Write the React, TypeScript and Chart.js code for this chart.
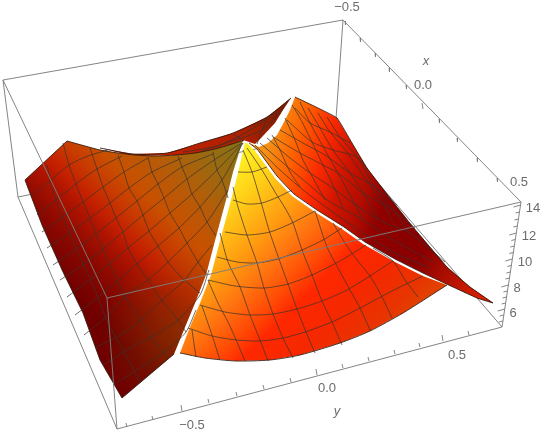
import React, { useEffect, useRef } from "react";
import { Chart, registerables } from "chart.js";

Chart.register(...registerables);

type P = [number, number];

// Box frame (plane coordinates of the projected cube)
const backEdges: P[][] = [
  [[343, 20], [335, 133]],
  [[18, 197], [335, 133]],
  [[502, 327], [335, 133]],
];
const frontEdges: P[][] = [
  [[3, 80], [343, 20]],
  [[343, 20], [521, 202]],
  [[3, 80], [18, 197]],
  [[18, 197], [117, 429]],
  [[117, 429], [502, 327]],
  [[521, 202], [502, 327]],
  [[3, 80], [107, 298]],
  [[107, 298], [521, 202]],
  [[107, 298], [117, 429]],
];

// Axis tick positions
const xMinorTicks: P[] = [[345, 21], [360, 38], [375, 53], [389, 68], [406, 85], [439, 119], [457, 138], [477, 158], [497, 178]];
const xMajorTicks: P[] = [[422, 103]];
const yMinorTicks: P[] = [[127, 427], [153, 420], [209, 403], [237, 396], [264, 389], [291, 382], [343, 368], [369, 361], [395, 354], [420, 347], [469, 335]];
const yMajorTicks: P[] = [[182, 411], [317, 375], [443, 341]];
const zMinorTicks: P[] = [[519.5, 212], [518.4, 219], [517.4, 226], [515.3, 239.5], [514.3, 246], [513.3, 252.5], [511.3, 265.5], [510.4, 272], [509.4, 278], [507.4, 291], [506.5, 297], [505.6, 303], [503.8, 315], [502.9, 321]];
const zMajorTicks: P[] = [[520.5, 205], [516.3, 233], [512.3, 259], [508.4, 285], [504.7, 309]];

// Tick and axis labels
const axisLabels: { text: string; at: P; italic?: boolean }[] = [
  { text: "\u22120.5", at: [347, 7] },
  { text: "0.0", at: [423, 85] },
  { text: "0.5", at: [519, 182] },
  { text: "x", at: [426, 61], italic: true },
  { text: "\u22120.5", at: [192, 425] },
  { text: "0.0", at: [327, 388] },
  { text: "0.5", at: [457, 355] },
  { text: "y", at: [337, 411], italic: true },
  { text: "14", at: [533, 208] },
  { text: "12", at: [529, 236] },
  { text: "10", at: [525, 262] },
  { text: "8", at: [517, 288] },
  { text: "6", at: [513, 313] },
];

// Surface sheets: outlines
const backSheet: P[] = [[100, 148], [133, 154], [167, 153], [200, 143], [233, 133], [267, 117], [291, 98], [283, 110], [275, 123], [262, 137], [255, 144], [243, 140], [217, 152], [183, 155], [133, 156]];
const rightSheet: P[] = [[295, 97], [316, 107], [337, 118], [352, 143], [367, 168], [390, 198], [413, 227], [447, 267], [470, 287], [493, 303], [477, 298], [425, 274], [395, 259], [365, 242], [344, 227], [317, 210], [294, 194], [277, 176], [257, 149], [249, 143], [259, 147], [268, 143], [277, 135], [284, 122], [290, 110]];
const leftSheet: P[] = [[67, 141], [85, 146], [100, 150], [118, 153], [135, 155], [155, 156], [175, 155], [195, 153], [215, 149], [232, 144], [244, 140], [242, 143], [233, 172], [226, 200], [216, 237], [206, 275], [195, 303], [185, 327], [174, 354], [122, 398], [100, 360], [83, 313], [63, 272], [42, 225], [25, 180]];
const frontSheet: P[] = [[245, 143], [238, 173], [231, 200], [221, 237], [211, 275], [200, 303], [190, 327], [180, 353], [205, 358], [236, 361], [270, 360], [300, 355], [340, 343], [370, 331], [403, 313], [447, 285], [423, 276], [393, 261], [363, 244], [342, 229], [315, 212], [292, 196], [275, 178], [255, 151], [247, 143]];

// Thin dark rims
const leftRimTop: P[] = [[67, 141], [85, 146], [100, 150], [118, 153], [135, 155], [155, 156], [175, 155], [195, 153], [215, 149], [232, 144], [244, 140]];
const leftRimOuter: P[] = [[67, 141], [25, 180], [42, 225], [63, 272], [83, 313], [100, 360], [122, 398], [174, 354]];
const frontRimBottom: P[] = [[180, 353], [205, 358], [236, 361], [270, 360], [300, 355], [340, 343], [370, 331], [403, 313], [447, 285]];
const rightRimOuter: P[] = [[295, 97], [316, 107], [337, 118], [352, 143], [367, 168], [390, 198], [413, 227], [447, 267], [470, 287], [493, 303]];
const rightRimInner: P[] = [[249, 143], [257, 149], [277, 176], [294, 194], [317, 210], [344, 227], [365, 242], [395, 259], [425, 274], [477, 298], [493, 303]];
const backRimTop: P[] = [[100, 148], [133, 154], [167, 153], [200, 143], [233, 133], [267, 117], [291, 98]];

// Mesh lines, front sheet
const frontArcs: P[][] = [
  [[238, 172], [252, 172], [267, 167]],
  [[233, 200], [247, 204], [262, 203], [278, 197], [292, 190]],
  [[225, 232], [247, 235], [270, 232], [292, 223], [315, 211]],
  [[217, 257], [237, 262], [257, 263], [278, 259], [302, 250], [323, 240], [342, 228]],
  [[208, 280], [235, 286], [264, 288], [288, 284], [312, 275], [340, 261], [366, 245]],
  [[200, 305], [225, 312], [250, 315], [273, 314], [297, 309], [322, 301], [345, 291], [370, 276], [393, 261]],
  [[188, 328], [212, 336], [237, 340], [260, 341], [283, 338], [305, 332], [332, 322], [360, 308], [392, 291], [423, 276]],
];
const frontRays: P[][] = [
  [[192, 330], [196, 357]],
  [[202, 306], [212, 335], [220, 360]],
  [[208, 280], [218, 303], [228, 322], [237, 342], [245, 361]],
  [[220, 233], [228, 262], [240, 287], [250, 315], [260, 340], [268, 361]],
  [[233, 187], [238, 207], [247, 235], [257, 263], [264, 288], [273, 314], [283, 338], [293, 358]],
  [[243, 150], [252, 172], [261, 202], [269, 230], [279, 259], [288, 284], [297, 309], [306, 332], [315, 353]],
  [[247, 148], [262, 170], [275, 192], [285, 208], [293, 223], [302, 250], [312, 275], [322, 301], [332, 322], [342, 345]],
  [[315, 211], [327, 247], [338, 268], [350, 290], [360, 308], [370, 330]],
  [[333, 223], [345, 243], [357, 260], [370, 276], [382, 297], [392, 318]],
  [[373, 248], [393, 261], [405, 280], [418, 297]],
];

// Mesh lines, left sheet
const leftRuns: P[][] = [
  [[31, 197], [50, 181], [69, 165], [88, 156], [108, 150]],
  [[37, 215], [56, 200], [76, 184], [97, 169], [122, 156]],
  [[42, 232], [63, 217], [83, 202], [103, 187], [124, 172], [148, 158]],
  [[47, 248], [68, 234], [90, 218], [110, 203], [129, 188], [152, 172], [182, 158]],
  [[53, 265], [75, 250], [96, 234], [116, 218], [137, 201], [158, 184], [182, 167], [213, 154]],
  [[60, 280], [81, 266], [103, 249], [123, 232], [143, 215], [164, 198], [187, 179], [214, 160], [242, 143]],
  [[67, 297], [87, 282], [108, 265], [128, 248], [149, 231], [170, 213], [192, 194], [217, 170], [243, 143]],
  [[75, 315], [96, 299], [117, 281], [137, 264], [158, 246], [179, 228], [200, 207], [222, 180], [243, 143]],
  [[84, 335], [105, 318], [125, 297], [148, 280], [168, 262], [187, 243], [207, 222], [228, 190]],
  [[95, 348], [125, 332], [148, 313], [170, 293], [183, 282], [198, 262], [212, 245]],
  [[103, 365], [132, 347], [155, 335], [178, 320], [200, 295], [209, 270]],
  [[113, 385], [140, 368], [167, 350], [186, 332], [196, 310]],
];
const leftFalls: P[][] = [
  [[47, 165], [55, 198], [67, 227], [78, 253], [92, 283], [108, 323], [123, 350], [140, 382]],
  [[63, 143], [69, 165], [76, 184], [83, 202], [90, 218], [96, 234], [103, 249], [110, 265], [117, 280], [125, 297], [140, 320], [155, 342], [167, 357]],
  [[90, 148], [97, 169], [103, 187], [110, 203], [116, 218], [123, 232], [128, 248], [137, 264], [148, 280], [160, 298], [178, 320], [186, 332]],
  [[118, 155], [124, 172], [129, 188], [137, 201], [143, 215], [149, 231], [158, 246], [168, 262], [181, 277], [200, 293]],
  [[148, 157], [152, 172], [158, 184], [164, 198], [170, 213], [179, 228], [187, 243], [198, 262], [207, 275]],
  [[178, 156], [182, 167], [187, 179], [192, 194], [200, 207], [207, 222], [216, 236]],
  [[213, 152], [217, 170], [222, 180], [228, 198]],
];

// Mesh lines, right sheet
const rightRuns: P[][] = [
  [[295, 108], [310, 123], [330, 132], [350, 143]],
  [[287, 120], [312, 142], [333, 150], [357, 157], [368, 170]],
  [[280, 130], [303, 143], [325, 155], [350, 173], [375, 187], [397, 205]],
  [[273, 137], [300, 153], [323, 165], [338, 173], [363, 193], [393, 210], [415, 228]],
  [[267, 138], [290, 158], [313, 175], [333, 188], [353, 203], [383, 222], [410, 233], [445, 262]],
  [[260, 143], [283, 163], [307, 183], [330, 202], [360, 218], [390, 238], [433, 262]],
  [[255, 145], [280, 170], [307, 193], [333, 212], [363, 233], [395, 253], [430, 268]],
];
const rightFalls: P[][] = [
  [[272, 135], [280, 150], [290, 172], [300, 187]],
  [[285, 118], [295, 140], [303, 160], [313, 178], [325, 200]],
  [[292, 105], [300, 118], [312, 142], [323, 165], [333, 185], [343, 208]],
  [[300, 102], [310, 123], [325, 150], [338, 173], [350, 195], [362, 218]],
  [[308, 108], [320, 128], [333, 150], [350, 173], [363, 193], [378, 220]],
  [[318, 113], [330, 132], [347, 152], [363, 175], [382, 202], [393, 222]],
  [[327, 117], [340, 137], [357, 157], [375, 187], [393, 210], [410, 233]],
];

// Mesh lines, far sheet
const backLines: P[][] = [
  [[183, 152], [217, 146], [247, 132], [277, 112]],
  [[200, 152], [232, 141], [262, 130], [284, 108]],
  [[233, 134], [243, 140]],
  [[267, 118], [257, 144]],
];

const gridColor = "rgba(60,50,45,0.72)";
const frameColor = "rgba(125,125,125,0.95)";
const rimColor = "rgba(45,25,15,0.85)";
const labelColor = "#6b6b6b";

type Grad = { from: P; to: P; stops: [number, string][]; radius?: number };

const backFill: Grad[] = [{ from: [170, 150], to: [295, 100], stops: [[0, "#c02000"], [0.55, "#ac2000"], [1, "#701800"]] }];
const rightFill: Grad[] = [
  { from: [270, 100], to: [435, 150], stops: [[0.07, "#f49015"], [0.22, "#ff6000"], [0.39, "#fa2800"], [0.53, "#d01500"], [0.68, "#b00c00"], [0.8, "#900000"], [1, "#8a0000"]] },
  { from: [482, 300], to: [482, 300], radius: 75, stops: [[0, "rgba(225,35,0,0.95)"], [1, "rgba(225,35,0,0)"]] },
];
const leftFill: Grad[] = [
  { from: [60, 280], to: [215, 125], stops: [[0, "#700000"], [0.16, "#8a0800"], [0.29, "#ae1400"], [0.355, "#c41f00"], [0.45, "#c83a00"], [0.55, "#c85000"], [0.71, "#b55c08"], [0.87, "#9a6a10"], [1, "#8a7015"]] },
  { from: [185, 335], to: [185, 335], radius: 85, stops: [[0, "rgba(125,70,0,0.55)"], [1, "rgba(125,70,0,0)"]] },
];
const frontFill: Grad[] = [{ from: [200, 200], to: [365, 365], stops: [[0, "#ffee20"], [0.12, "#ffd018"], [0.3, "#ff9a10"], [0.41, "#ff7510"], [0.53, "#ff4a05"], [0.61, "#ff2800"], [0.76, "#f52800"], [0.91, "#e83400"], [1, "#e04400"]] }];

const toPts = (pts: P[]) => pts.map(([x, y]) => ({ x, y }));

function line(pts: P[], color: string, width = 1, tension = 0.25) {
  return { type: "line", data: toPts(pts), borderColor: color, borderWidth: width, pointRadius: 0, tension, fill: false, showLine: true };
}
function sheet(pts: P[], fills: Grad[]) {
  return { type: "line", data: toPts(pts), borderWidth: 0, borderColor: "transparent", pointRadius: 0, tension: 0, fill: false, showLine: false, sheetFills: fills };
}
function ticks(pts: P[], dx: number, dy: number, color: string) {
  const out: any[] = [];
  pts.forEach(([x, y]) => out.push({ x, y }, { x: x + dx, y: y + dy }, { x: NaN, y: NaN }));
  return { type: "line", data: out, borderColor: color, borderWidth: 1, pointRadius: 0, fill: false, showLine: true, spanGaps: false };
}

const sheetPlugin = {
  id: "sheetPlugin",
  beforeDatasetDraw(chart: any, args: any) {
    const ds = chart.data.datasets[args.index];
    if (!ds.sheetFills) return;
    const { ctx, scales } = chart;
    const px = (p: P): P => [scales.x.getPixelForValue(p[0]), scales.y.getPixelForValue(p[1])];
    const pts = args.meta.data;
    ds.sheetFills.forEach((g: Grad) => {
      const a = px(g.from);
      const b = px(g.to);
      const grad = g.radius
        ? ctx.createRadialGradient(a[0], a[1], 0, a[0], a[1], g.radius)
        : ctx.createLinearGradient(a[0], a[1], b[0], b[1]);
      g.stops.forEach(([o, c]) => grad.addColorStop(o, c));
      ctx.save();
      ctx.beginPath();
      pts.forEach((p: any, i: number) => (i ? ctx.lineTo(p.x, p.y) : ctx.moveTo(p.x, p.y)));
      ctx.closePath();
      ctx.fillStyle = grad;
      ctx.fill();
      ctx.restore();
    });
  },
};

const labelPlugin = {
  id: "labelPlugin",
  afterDraw(chart: any) {
    const { ctx, scales } = chart;
    ctx.save();
    ctx.fillStyle = labelColor;
    ctx.textAlign = "center";
    ctx.textBaseline = "middle";
    axisLabels.forEach((l) => {
      ctx.font = `${l.italic ? "italic " : ""}13px "Liberation Sans", Arial, sans-serif`;
      ctx.fillText(l.text, scales.x.getPixelForValue(l.at[0]), scales.y.getPixelForValue(l.at[1]));
    });
    ctx.restore();
  },
};

export default function App() {
  const ref = useRef<HTMLCanvasElement>(null);
  useEffect(() => {
    if (!ref.current) return;
    const painted: any[] = [
      ...backEdges.map((e) => line(e, frameColor, 1, 0)),
      sheet(backSheet, backFill),
      ...backLines.map((l) => line(l, gridColor)),
      line(backRimTop, rimColor),
      sheet(rightSheet, rightFill),
      ...rightRuns.map((l) => line(l, gridColor)),
      ...rightFalls.map((l) => line(l, gridColor)),
      line(rightRimOuter, rimColor, 1, 0.1),
      line(rightRimInner, rimColor, 1, 0.1),
      sheet(leftSheet, leftFill),
      ...leftRuns.map((l) => line(l, gridColor)),
      ...leftFalls.map((l) => line(l, gridColor)),
      line(leftRimTop, rimColor, 1),
      line(leftRimOuter, rimColor, 1, 0),
      sheet(frontSheet, frontFill),
      ...frontArcs.map((l) => line(l, gridColor)),
      ...frontRays.map((l) => line(l, gridColor)),
      line(frontRimBottom, rimColor),
      ...frontEdges.map((e) => line(e, frameColor, 1, 0)),
      ticks(xMinorTicks, 0.5, 4, frameColor),
      ticks(xMajorTicks, 1, 6, frameColor),
      ticks(yMinorTicks, -1, -4, frameColor),
      ticks(yMajorTicks, -1, -6, frameColor),
      ticks(zMinorTicks, -4, 1, frameColor),
      ticks(zMajorTicks, -7, 2, frameColor),
    ];
    const n = painted.length;
    painted.forEach((d, i) => (d.order = n - i));
    const chart = new Chart(ref.current, {
      type: "scatter",
      data: { datasets: painted },
      options: {
        animation: false,
        responsive: false,
        layout: { padding: 0 },
        plugins: { legend: { display: false }, tooltip: { enabled: false } },
        scales: {
          x: { type: "linear", min: 0, max: 545, display: false },
          y: { type: "linear", min: 0, max: 436, reverse: true, display: false },
        },
      },
      plugins: [sheetPlugin, labelPlugin],
    } as any);
    return () => chart.destroy();
  }, []);
  return (
    <div style={{ position: "fixed", left: 0, top: 0, width: 545, height: 436, background: "#fff" }}>
      <canvas ref={ref} width={545} height={436} style={{ display: "block" }} />
    </div>
  );
}
